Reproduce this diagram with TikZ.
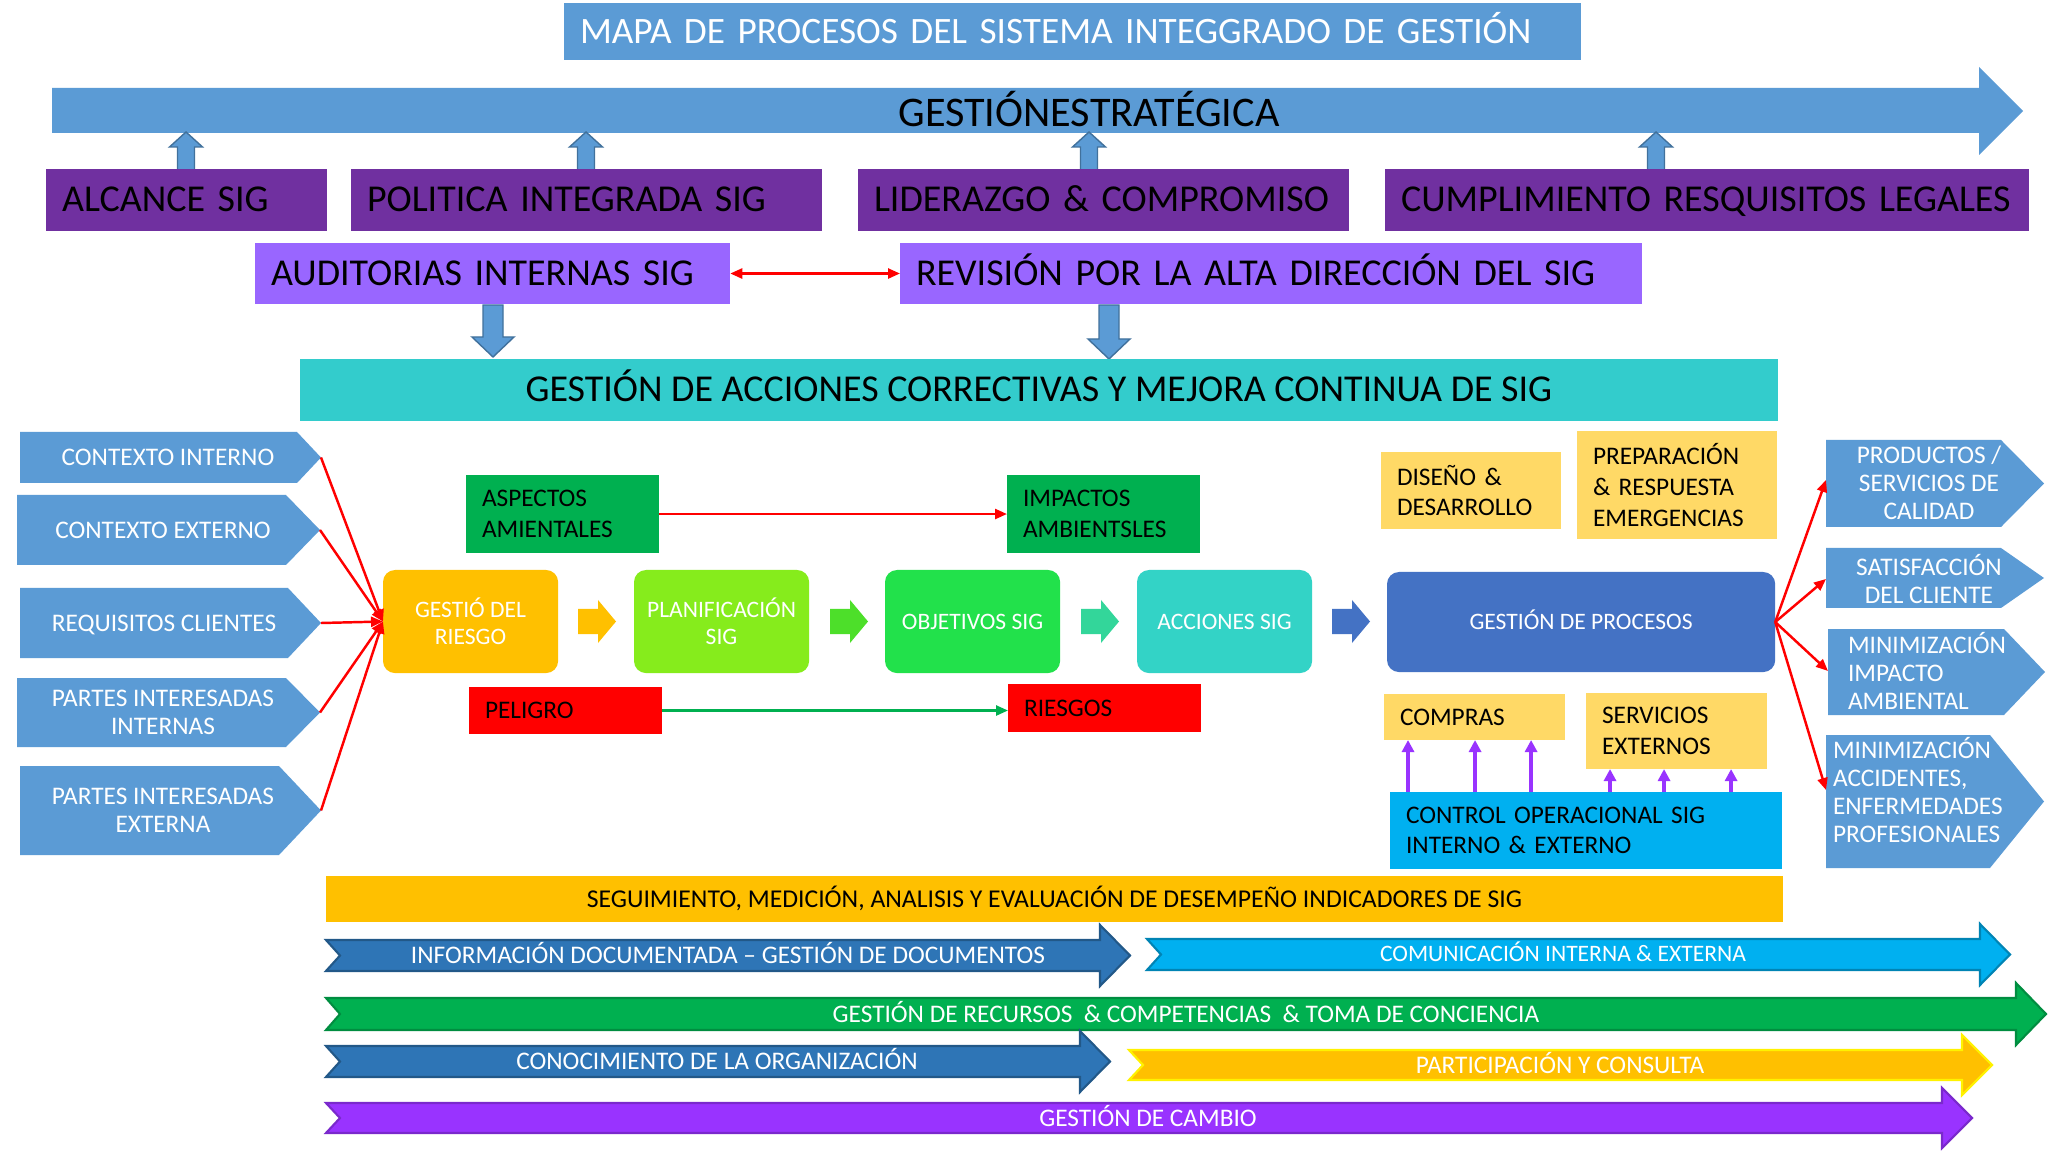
\documentclass[tikz,border=0pt]{standalone}
\usepackage{fontspec}
\setmainfont{Carlito}
\usetikzlibrary{arrows.meta}
\definecolor{mblue}{HTML}{5B9BD5}
\definecolor{mblueln}{HTML}{41719C}
\definecolor{dpurp}{HTML}{7030A0}
\definecolor{lpurp}{HTML}{9966FF}
\definecolor{teal1}{HTML}{33CCCC}
\definecolor{gold}{HTML}{FFC000}
\definecolor{lgold}{HTML}{FFD966}
\definecolor{grn}{HTML}{00B050}
\definecolor{lime}{HTML}{86EC1C}
\definecolor{objg}{HTML}{22E14B}
\definecolor{accs}{HTML}{33D3C6}
\definecolor{pblue}{HTML}{4472C4}
\definecolor{cyan1}{HTML}{00B0F0}
\definecolor{dblue}{HTML}{2E75B6}
\definecolor{viol}{HTML}{9933FF}
\definecolor{arrg}{HTML}{4DDF2A}
\definecolor{arrt}{HTML}{33D69A}
\begin{document}
\begin{tikzpicture}[x=0.01cm,y=-0.01cm,
  every node/.style={font=\fontsize{7.2}{8.7}\selectfont,inner sep=0pt,outer sep=0pt},
  bigtxt/.style={font=\fontsize{10.8}{13}\selectfont},
  capline/.style={text height=#1,text depth=0pt},
  capline/.default=4.55pt,
  lbox/.style={fill=#1,anchor=north west,align=left,inner xsep=0.16cm},
  cbox/.style={fill=#1,anchor=north west,align=center},
  proc/.style={fill=#1,anchor=north west,align=center,rounded corners=0.12cm,text=white,
    font=\fontsize{6.7}{7.6}\selectfont,minimum width=1.75cm,minimum height=1.03cm},
  wtxt/.style={text=white,align=center,font=\fontsize{7.2}{8.0}\selectfont},
  redarr/.style={red,line width=0.7pt,-{Triangle[length=1.2mm,width=1.0mm]}},
  grnarr/.style={grn,line width=0.7pt,-{Triangle[length=1.2mm,width=1.0mm]}},
  vioarr/.style={viol,line width=1pt,-{Triangle[length=1.2mm,width=1.2mm]}},
  blkarrow/.style={fill=mblue,draw=mblueln,line width=0.4pt}]
  \fill[white] (0,0) rectangle (2048,1152);
  \useasboundingbox (0,0) rectangle (2048,1152);

  % title and strategic arrow
  \node[lbox=mblue,font=\fontsize{10.6}{13}\selectfont,capline=6.7pt,text=white,text width=9.84cm,minimum height=0.57cm] (ttl) at (564,3) {MAPA DE PROCESOS DEL SISTEMA INTEGGRADO DE GESTIÓN};
  \fill[mblue] (52,88) -- (1979,88) -- (1979,67) -- (2023,111) -- (1979,155) -- (1979,133) -- (52,133) -- cycle;
  \node[font=\fontsize{12}{14}\selectfont,anchor=base] (est) at (1089,127) {GESTIÓNESTRATÉGICA};
  \foreach \x in {186,586,1089,1656}
    \filldraw[blkarrow] (\x-8.5,170) -- (\x-8.5,147) -- (\x-16.5,147) -- (\x,132) -- (\x+16.5,147) -- (\x+8.5,147) -- (\x+8.5,170) -- cycle;

  % top boxes
  \node[lbox=dpurp,bigtxt,capline=6.8pt,text width=2.49cm,minimum height=0.62cm] (alc) at (46,169) {ALCANCE SIG};
  \node[lbox=dpurp,bigtxt,capline=6.8pt,text width=4.39cm,minimum height=0.62cm] (pol) at (351,169) {POLITICA INTEGRADA SIG};
  \node[lbox=dpurp,bigtxt,capline=6.8pt,text width=4.59cm,minimum height=0.62cm] (lid) at (858,169) {LIDERAZGO \& COMPROMISO};
  \node[lbox=dpurp,bigtxt,capline=6.8pt,text width=6.12cm,minimum height=0.62cm] (cum) at (1385,169) {CUMPLIMIENTO RESQUISITOS LEGALES};
  \node[lbox=lpurp,bigtxt,capline=6.8pt,text width=4.43cm,minimum height=0.61cm] (aud) at (255,243) {AUDITORIAS INTERNAS SIG};
  \node[lbox=lpurp,bigtxt,capline=6.8pt,text width=7.10cm,minimum height=0.61cm] (rev) at (900,243) {REVISIÓN POR LA ALTA DIRECCIÓN DEL SIG};
  \draw[redarr,{Triangle[length=1.2mm,width=1.0mm]}-{Triangle[length=1.2mm,width=1.0mm]}] (aud.east) -- (rev.west);
  \foreach \x/\t in {493/357,1109/359}
    \filldraw[blkarrow] (\x-10,305) -- (\x+10,305) -- (\x+10,\t-20) -- (\x+21,\t-20) -- (\x,\t) -- (\x-21,\t-20) -- (\x-10,\t-20) -- cycle;
  \node[cbox=teal1,bigtxt,capline=6.8pt,minimum width=14.77cm,minimum height=0.62cm] (mej) at (300,359) {GESTIÓN DE ACCIONES CORRECTIVAS Y MEJORA CONTINUA DE SIG};

  % inputs
  \fill[mblue] (20,432) -- (297,432) -- (321,457.5) -- (297,483) -- (20,483) -- cycle;
  \fill[mblue] (17,495) -- (286,495) -- (320,530) -- (286,565) -- (17,565) -- cycle;
  \fill[mblue] (20,588) -- (288,588) -- (321,623) -- (288,658) -- (20,658) -- cycle;
  \fill[mblue] (17,678) -- (286,678) -- (320,712.5) -- (286,747) -- (17,747) -- cycle;
  \fill[mblue] (20,766) -- (279,766) -- (321,810.5) -- (279,855) -- (20,855) -- cycle;
  \node[wtxt,capline] (ci) at (168,457.5) {CONTEXTO INTERNO};
  \node[wtxt,capline] (ce) at (163,530) {CONTEXTO EXTERNO};
  \node[wtxt,capline] (rc) at (164,623) {REQUISITOS CLIENTES};
  \node[wtxt] (pi) at (163,712.5) {PARTES INTERESADAS\\INTERNAS};
  \node[wtxt] (pe) at (163,810.5) {PARTES INTERESADAS\\EXTERNA};
  \coordinate (ci-tip) at (321,457.5);
  \coordinate (ce-tip) at (320,530);
  \coordinate (rc-tip) at (321,623);
  \coordinate (pi-tip) at (320,712.5);
  \coordinate (pe-tip) at (321,810.5);

  % process chain
  \node[proc=gold] (rsg) at (383,570) {GESTIÓ DEL\\RIESGO};
  \node[proc=lime] (pla) at (634,570) {PLANIFICACIÓN\\SIG};
  \node[proc=objg,capline=4.25pt] (obj) at (885,570) {OBJETIVOS SIG};
  \node[proc=accs,capline=4.25pt] (acs) at (1137,570) {ACCIONES SIG};
  \node[proc=pblue,capline=4.25pt,minimum width=3.88cm,minimum height=1.00cm] (pro) at (1387,572) {GESTIÓN DE PROCESOS};
  \foreach \x/\c in {578/gold,830/arrg,1081/arrt,1332/pblue}
    \fill[\c] (\x,609) -- ++(20,0) -- ++(0,-9) -- ++(18,21.5) -- ++(-18,21.5) -- ++(0,-9) -- ++(-20,0) -- cycle;
  \foreach \n in {ci,ce,rc,pi,pe}
    \draw[redarr] (\n-tip) -- (rsg.west);

  \node[lbox=grn,text width=1.61cm,minimum height=0.78cm] (asp) at (466,475) {ASPECTOS\\AMIENTALES};
  \node[lbox=grn,text width=1.61cm,minimum height=0.78cm] (imp) at (1007,475) {IMPACTOS\\AMBIENTSLES};
  \node[lbox=red,capline,text width=1.61cm,minimum height=0.47cm] (pel) at (469,687) {PELIGRO};
  \node[lbox=red,capline,text width=1.61cm,minimum height=0.48cm] (rie) at (1008,684) {RIESGOS};
  \draw[redarr] (asp.east) -- (imp.west);
  \draw[grnarr] (pel.east) -- (pel.east -| rie.west);

  % operation
  \node[lbox=lgold,text width=1.48cm,minimum height=0.77cm] (dis) at (1381,452) {DISEÑO \&\\DESARROLLO};
  \node[lbox=lgold,text width=1.68cm,minimum height=1.08cm] (pre) at (1577,431) {PREPARACIÓN\\\& RESPUESTA\\EMERGENCIAS};
  \node[lbox=lgold,capline,text width=1.49cm,minimum height=0.46cm] (com) at (1384,694) {COMPRAS};
  \node[lbox=lgold,text width=1.49cm,minimum height=0.76cm] (ser) at (1586,693) {SERVICIOS\\EXTERNOS};
  \node[lbox=cyan1,text width=3.60cm,minimum height=0.77cm] (ctl) at (1390,792) {CONTROL OPERACIONAL SIG\\INTERNO \& EXTERNO};
  \foreach \d in {0.24,0.91,1.47}
    \draw[vioarr] ([xshift=\d cm]com.south west |- ctl.north) -- ([xshift=\d cm]com.south west);
  \foreach \d in {0.24,0.78,1.45}
    \draw[vioarr] ([xshift=\d cm]ser.south west |- ctl.north) -- ([xshift=\d cm]ser.south west);

  % outputs
  \fill[mblue] (1826,440) -- (2001,440) -- (2044,483.5) -- (2001,527) -- (1826,527) -- cycle;
  \fill[mblue] (1826,548) -- (2001,548) -- (2044,578) -- (2001,608) -- (1826,608) -- cycle;
  \fill[mblue] (1828,629) -- (2004,629) -- (2045,672) -- (2004,715) -- (1828,715) -- cycle;
  \fill[mblue] (1826,735) -- (1990,735) -- (2044,801.5) -- (1990,868) -- (1826,868) -- cycle;
  \node[wtxt] (prd) at (1929,483) {PRODUCTOS /\\SERVICIOS DE\\CALIDAD};
  \node[wtxt] (sat) at (1929,579) {SATISFACCIÓN\\DEL CLIENTE};
  \node[wtxt,align=left,anchor=west] (mia) at (1848,671) {MINIMIZACIÓN\\IMPACTO\\AMBIENTAL};
  \node[wtxt,align=left,anchor=west] (mac) at (1833,790) {MINIMIZACIÓN\\ACCIDENTES,\\ENFERMEDADES\\PROFESIONALES};
  \coordinate (prd-in) at (1826,480);
  \coordinate (sat-in) at (1826,579);
  \coordinate (mia-in) at (1828,671);
  \coordinate (mac-in) at (1826,790);
  \foreach \n in {prd,sat,mia,mac}
    \draw[redarr] (pro.east) -- (\n-in);

  % support bands
  \node[cbox=gold,capline,font=\fontsize{7.3}{8.7}\selectfont,minimum width=14.56cm,minimum height=0.46cm] (seg) at (326,876) {SEGUIMIENTO, MEDICIÓN, ANALISIS Y EVALUACIÓN DE DESEMPEÑO INDICADORES DE SIG};
  \foreach \l/\b/\ya/\yb/\c/\e in {326/1100/940/971/dblue/dblue!75!black,1147/1980/939/970/cyan1/cyan1!75!black,
      326/2016/998/1030/grn/grn!80!black,326/1080/1046/1077/dblue/dblue!75!black,
      1129/1962/1050/1080/gold/yellow,326/1942/1103/1133/viol/viol!80!black}
    \filldraw[fill=\c,draw=\e,line width=0.6pt] (\l,\ya) -- (\b,\ya) -- (\b,\ya-15) -- (\b+30,{(\ya+\yb)/2})
      -- (\b,\yb+15) -- (\b,\yb) -- (\l,\yb) -- (\l+14,{(\ya+\yb)/2}) -- cycle;
  \node[wtxt,capline] (inf) at (728,955.5) {INFORMACIÓN DOCUMENTADA – GESTIÓN DE DOCUMENTOS};
  \node[wtxt,capline=4.25pt,font=\fontsize{6.7}{8}\selectfont] (cmi) at (1563,954.5) {COMUNICACIÓN INTERNA \& EXTERNA};
  \node[wtxt,capline] (rec) at (1186,1014) {GESTIÓN DE RECURSOS\ \ \& COMPETENCIAS\ \ \& TOMA DE CONCIENCIA};
  \node[wtxt,capline] (con) at (717,1061.5) {CONOCIMIENTO DE LA ORGANIZACIÓN};
  \node[wtxt,capline] (par) at (1560,1065) {PARTICIPACIÓN Y CONSULTA};
  \node[wtxt,capline] (cam) at (1148,1118) {GESTIÓN DE CAMBIO};
\end{tikzpicture}
\end{document}
